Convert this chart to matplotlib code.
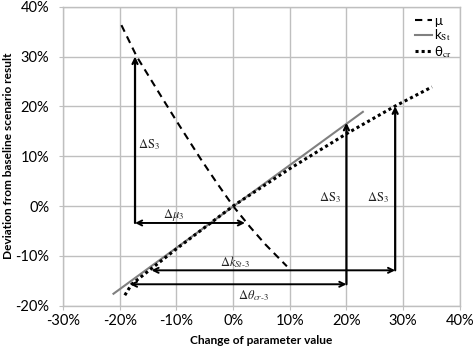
import matplotlib
matplotlib.use("Agg")
import matplotlib.pyplot as plt
from matplotlib.ticker import FuncFormatter, MultipleLocator

plt.rcParams['font.family'] = ['Lato', 'DejaVu Sans']
plt.rcParams['mathtext.fontset'] = 'stix'

# Data (percent)
mu_x = [-19.7, -17.0, -12.3, -10.0, -5.8, -2.9, 0.0, 3.0, 5.7, 9.5]
mu_y = [36.3, 30.0, 21.3, 17.1, 9.6, 4.7, 0.0, -4.2, -7.7, -12.1]
k_x = [-21.1, 22.9]
k_y = [-17.6, 18.9]
th_x = [-19.1, -17.9, -10.0, 0.0, 10.0, 20.0, 28.5, 35.1]
th_y = [-17.9, -15.7, -8.6, 0.0, 7.5, 14.5, 20.0, 23.9]

# Arrows: (x0, y0, x1, y1)
h_arrows = [(-17.3, -3.4, 2.1, -3.4), (-14.4, -12.9, 28.6, -12.9), (-18.2, -15.7, 20.0, -15.7)]
v_arrows = [(-17.3, -3.4, -17.3, 30.0), (20.0, -15.7, 20.0, 16.7), (28.6, -12.9, 28.6, 20.0)]

labels = [
    (r'$\Delta\mathrm{S}_3$', -16.7, 12.3),
    (r'$\Delta\mu_3$', -12.4, -1.7),
    (r'$\Delta k_{St\text{-}3}$', -2.3, -11.3),
    (r'$\Delta\theta_{cr\text{-}3}$', 0.9, -17.9),
    (r'$\Delta\mathrm{S}_3$', 15.2, 1.6),
    (r'$\Delta\mathrm{S}_3$', 23.6, 1.6),
]

fig = plt.figure(figsize=(4.74, 3.53), dpi=100)
ax = fig.add_axes([0.133, 0.134, 0.837, 0.847])

ax.plot(mu_x, mu_y, color='black', lw=1.5, linestyle=(0, (3.5, 2.5)), label='μ')
ax.plot(k_x, k_y, color='#808080', lw=1.5, label=r'k$_{\mathrm{St}}$')
ax.plot(th_x, th_y, color='black', lw=2.2, linestyle=(0, (1, 1)), label=r'θ$_{\mathrm{cr}}$')

for x0, y0, x1, y1 in h_arrows:
    ax.annotate('', xy=(x1, y1), xytext=(x0, y0),
                arrowprops=dict(arrowstyle='<->', lw=1.4, color='black',
                                mutation_scale=9, shrinkA=0, shrinkB=0))
for x0, y0, x1, y1 in v_arrows:
    ax.annotate('', xy=(x1, y1), xytext=(x0, y0),
                arrowprops=dict(arrowstyle='->', lw=1.6, color='black',
                                mutation_scale=9, shrinkA=0, shrinkB=0))

for t, x, y in labels:
    ax.text(x, y, t, fontsize=9, ha='left', va='center', color='#222222')

ax.set_xlim(-30, 40)
ax.set_ylim(-20, 40)
ax.xaxis.set_major_locator(MultipleLocator(10))
ax.yaxis.set_major_locator(MultipleLocator(10))
fmt = FuncFormatter(lambda v, p: f'{v:.0f}%')
ax.xaxis.set_major_formatter(fmt)
ax.yaxis.set_major_formatter(fmt)
ax.grid(True, color='#bfbfbf', lw=1)
ax.set_axisbelow(True)
for s in ax.spines.values():
    s.set_color('#bfbfbf')
    s.set_linewidth(1)
ax.tick_params(length=3, color='#bfbfbf', labelsize=10.5)
ax.tick_params(axis='y', pad=7)
ax.tick_params(axis='x', pad=3)

ax.set_xlabel('Change of parameter value', fontsize=8.6, fontweight='bold', labelpad=5)
ax.set_ylabel('Deviation from baseline scenario result', fontsize=8.6, fontweight='bold')
ax.yaxis.set_label_coords(-0.124, 0.5)

leg = ax.legend(loc='upper right', frameon=False, fontsize=9.5, handlelength=1.3,
                handletextpad=0.2, labelspacing=0.05, borderaxespad=0.2)

fig.savefig('out.png', dpi=100)
